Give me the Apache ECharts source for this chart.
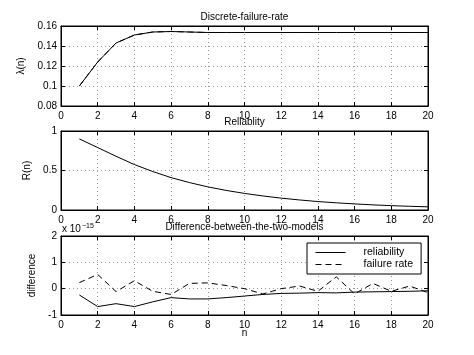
<!DOCTYPE html>
<html><head><meta charset="utf-8">
<script src="https://cdn.jsdelivr.net/npm/echarts@6/dist/echarts.min.js"></script>
<style>html,body{margin:0;padding:0;background:#fff}#c{width:474px;height:355px}</style>
</head><body><div id="c"></div>
<script>
const n = [1,2,3,4,5,6,7,8,9,10,11,12,13,14,15,16,17,18,19,20];
const failureRate = [0.100,0.124,0.143,0.151,0.154,0.1545,0.154,0.1535,0.1535,0.1535,0.1535,0.1535,0.1535,0.1535,0.1535,0.1535,0.1535,0.1535,0.1535,0.1535];
const reliability = [0.90,0.79,0.68,0.575,0.487,0.41,0.347,0.293,0.248,0.21,0.178,0.15,0.127,0.107,0.091,0.077,0.065,0.055,0.047,0.04];
const diffReliability = [-0.24,-0.68,-0.57,-0.68,-0.50,-0.34,-0.39,-0.39,-0.34,-0.28,-0.22,-0.18,-0.17,-0.15,-0.16,-0.13,-0.12,-0.11,-0.10,-0.08];
const diffFailureRate = [0.23,0.54,-0.11,0.30,-0.10,-0.22,0.20,0.22,0.12,0.00,-0.20,0.00,0.10,-0.10,0.45,-0.20,0.20,-0.10,0.10,-0.15];
const xTicks = [0,20,2];
const yTicksTop = [0.08,0.16,0.02];
const yTicksMid = [0,1,0.5];
const yTicksBot = [-1,2,1];

const FONT = 'Liberation Sans, Arial, sans-serif';
const pairs = (ys) => n.map((x,i)=>[x,ys[i]]);
const grids = [
  {left:61, width:367, top:26, height:80},
  {left:61, width:367, top:131, height:79},
  {left:61, width:367, top:236, height:79}
];
const axisLabel = {color:'#000', fontSize:10, fontFamily:FONT};
function xAx(g, pos, show){
  return {type:'value', gridIndex:g, position:pos, min:xTicks[0], max:xTicks[1], interval:xTicks[2],
    axisLine:{show:true, onZero:false, lineStyle:{color:'#000', width:1}},
    axisTick:{show:true, inside:true, length:4, lineStyle:{color:'#000'}},
    axisLabel: show ? Object.assign({margin:5}, axisLabel) : {show:false},
    splitLine:{show:show, lineStyle:{color:'#999', type:[1,3]}}};
}
function yAx(g, pos, t, show, name, gap){
  return {type:'value', gridIndex:g, position:pos, min:t[0], max:t[1], interval:t[2],
    name: show ? name : '', nameLocation:'middle', nameGap:gap, nameRotate:90,
    nameTextStyle:{color:'#000', fontSize:10, fontFamily:FONT},
    axisLine:{show:true, onZero:false, lineStyle:{color:'#000', width:1}},
    axisTick:{show:true, inside:true, length:4, lineStyle:{color:'#000'}},
    axisLabel: show ? Object.assign({margin:4}, axisLabel) : {show:false},
    splitLine:{show:show, lineStyle:{color:'#999', type:[1,3]}}};
}
const xAxes = [], yAxes = [];
for (let g=0; g<3; g++){ xAxes.push(xAx(g,'bottom',true)); xAxes.push(xAx(g,'top',false)); }
yAxes.push(yAx(0,'left',yTicksTop,true,'λ(n)',27));
yAxes.push(yAx(0,'right',yTicksTop,false,'',0));
yAxes.push(yAx(1,'left',yTicksMid,true,'R(n)',22));
yAxes.push(yAx(1,'right',yTicksMid,false,'',0));
yAxes.push(yAx(2,'left',yTicksBot,true,'difference',18));
yAxes.push(yAx(2,'right',yTicksBot,false,'',0));

const line = (name, xi, yi, data, type) => ({name, type:'line', xAxisIndex:xi, yAxisIndex:yi, data:pairs(data),
  symbol:'none', showSymbol:false, silent:true, animation:false, lineStyle:{color:'#000', width:1, type:type}, itemStyle:{color:'#000'}});

const titleStyle = {color:'#000', fontSize:10, fontWeight:'normal', fontFamily:FONT};
const chart = echarts.init(document.getElementById('c'));
chart.setOption({
  backgroundColor:'#fff',
  animation:false,
  grid: grids.map(g=>Object.assign({show:true, borderColor:'#000', borderWidth:1, backgroundColor:'#fff'}, g)),
  xAxis: xAxes,
  yAxis: yAxes,
  title: [
    {text:'Discrete-failure-rate', left:244.5, top:12, textAlign:'center', textStyle:titleStyle, padding:0},
    {text:'Reliablity', left:244.5, top:117, textAlign:'center', textStyle:titleStyle, padding:0},
    {text:'Difference-between-the-two-models', left:244.5, top:222, textAlign:'center', textStyle:titleStyle, padding:0},
    {text:'n', left:244.5, top:328, textAlign:'center', textStyle:titleStyle, padding:0}
  ],
  graphic: [
    {type:'text', left:62, top:223, style:{text:'x 10{s|−15}', rich:{s:{fontSize:7, verticalAlign:'top', padding:[0,0,6,1], fontFamily:FONT, fill:'#000'}}, fontSize:10, fontFamily:FONT, fill:'#000'}}
  ],
  legend: {
    left:307, top:243, orient:'vertical', itemWidth:30, itemHeight:10, itemGap:1,
    padding:[4,8,4,8], borderColor:'#000', borderWidth:1, backgroundColor:'#fff',
    itemStyle:{opacity:0},
    lineStyle:{width:1, color:'#000'},
    textStyle:{color:'#000', fontSize:10.5, fontFamily:FONT, padding:[0,0,0,13]},
    data:['reliability','failure rate'], selectedMode:false
  },
  series: [
    line('λ1', 0, 0, failureRate, 'solid'),
    line('λ2', 0, 0, failureRate, [6,4]),
    line('R', 2, 2, reliability, 'solid'),
    line('reliability', 4, 4, diffReliability, 'solid'),
    line('failure rate', 4, 4, diffFailureRate, [6,4])
  ]
});
</script></body></html>
